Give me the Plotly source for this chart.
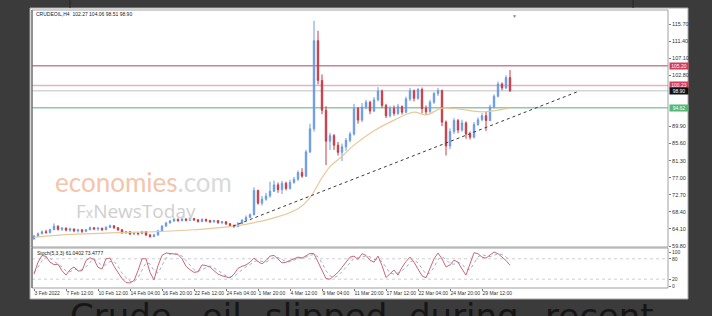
import plotly.graph_objects as go

# ---------------- data ----------------
first_open = 61.6
close = [62.3, 62.9, 63.4, 63.2, 63.9, 64.8, 64.0, 64.3, 63.8, 64.1,
         63.6, 63.9, 63.5, 63.9, 64.4, 64.1, 64.3, 63.9, 64.5, 64.9,
         64.4, 63.9, 63.1, 63.4, 62.8, 63.0, 62.9, 63.4, 62.6, 62.2,
         62.6, 63.6, 64.8, 65.6, 66.1, 66.5, 66.2, 66.6, 66.3, 66.7,
         66.4, 66.0, 66.5, 66.2, 65.9, 66.2, 65.7, 65.9, 65.4, 65.0,
         64.7, 65.5, 66.3, 67.0, 67.7, 73.8, 70.6, 71.6, 72.4, 73.6,
         75.2, 74.0, 75.6, 74.3, 75.8, 76.6, 78.3, 77.4, 83.5, 89.3,
         111.5, 101.5, 94.0, 86.2, 87.6, 85.2, 83.4, 84.8, 86.4, 88.0,
         94.4, 91.5, 94.8, 96.0, 93.8, 96.6, 98.8, 95.2, 92.6, 94.4,
         93.2, 94.9, 93.5, 96.8, 98.9, 97.0, 99.2, 94.4, 93.6, 96.0,
         98.2, 98.9, 91.0, 85.0, 88.6, 91.4, 89.0, 90.8, 88.0, 87.2,
         90.4, 91.6, 92.6, 91.4, 94.8, 97.5, 100.6, 99.6, 102.2, 98.9]
high = [62.6, 63.2, 63.7, 63.9, 64.2, 65.5, 65.0, 64.6, 64.5, 64.4,
        64.2, 64.1, 64.0, 64.1, 64.7, 64.6, 64.5, 64.4, 64.8, 65.2,
        65.0, 64.6, 64.1, 63.6, 63.5, 63.2, 63.2, 63.6, 63.5, 62.8,
        62.9, 63.9, 65.1, 65.9, 66.4, 66.9, 66.8, 67.0, 66.8, 67.0,
        66.9, 66.6, 66.8, 66.7, 66.4, 66.4, 66.3, 66.1, 66.0, 65.6,
        65.2, 65.8, 66.6, 67.5, 68.0, 74.6, 74.0, 72.4, 73.2, 76.0,
        76.3, 75.8, 76.2, 76.0, 76.5, 77.2, 78.8, 79.4, 84.0, 90.6,
        116.5, 114.0, 103.0, 95.0, 88.3, 88.0, 86.0, 85.6, 87.0, 88.6,
        95.6, 94.8, 95.8, 96.6, 96.4, 97.3, 99.8, 99.2, 95.6, 95.0,
        95.2, 95.6, 95.2, 97.4, 99.6, 99.2, 99.6, 99.7, 95.2, 96.6,
        98.6, 99.6, 99.2, 91.4, 89.4, 92.0, 91.8, 91.6, 91.2, 88.6,
        91.0, 92.2, 93.2, 93.6, 95.4, 98.0, 101.2, 101.0, 102.8, 104.1]
low = [61.4, 62.2, 62.8, 62.9, 63.0, 63.8, 63.7, 63.6, 63.5, 63.4,
       63.3, 63.2, 63.1, 63.3, 63.8, 63.8, 63.7, 63.6, 63.8, 64.3,
       64.1, 63.6, 62.9, 62.9, 62.6, 62.6, 62.5, 62.8, 62.3, 61.9,
       62.0, 62.4, 63.5, 64.7, 65.5, 65.9, 65.9, 66.0, 66.0, 66.1,
       66.1, 65.7, 65.8, 65.8, 65.6, 65.7, 65.4, 65.3, 65.1, 64.6,
       64.4, 64.6, 65.4, 66.2, 66.9, 67.5, 70.2, 70.0, 71.2, 72.0,
       73.4, 73.2, 72.9, 73.8, 74.0, 75.5, 76.2, 77.0, 77.2, 83.2,
       88.6, 100.5, 93.0, 80.2, 84.0, 84.0, 82.6, 81.2, 83.8, 85.9,
       87.6, 90.6, 91.0, 94.2, 93.0, 93.5, 96.2, 94.6, 92.0, 92.2,
       92.6, 92.8, 92.9, 93.2, 96.3, 96.2, 96.6, 93.2, 92.8, 93.4,
       95.6, 97.6, 90.0, 82.6, 84.2, 88.0, 88.2, 88.6, 86.8, 86.6,
       86.9, 90.0, 91.2, 88.8, 91.2, 94.5, 97.2, 99.0, 99.3, 98.6]
opens = [first_open] + close[:-1]
bar_idx = list(range(len(close)))

stoch_k = [35, 70, 90, 87, 70, 63, 64, 45, 32, 48,
           56, 44, 45, 75, 83, 78, 55, 50, 80, 82,
           58, 40, 22, 10, 9, 16, 45, 80, 80, 40,
           18, 60, 90, 97, 95, 95, 93, 80, 58, 48,
           40, 42, 62, 60, 56, 45, 35, 30, 26, 24,
           35, 52, 58, 62, 70, 82, 72, 65, 75, 88,
           90, 78, 68, 70, 75, 82, 85, 82, 88, 96,
           95, 70, 45, 22, 20, 30, 40, 55, 70, 85,
           88, 78, 95, 90, 76, 70, 88, 60, 25, 35,
           47, 32, 55, 72, 85, 70, 50, 30, 24, 55,
           80, 97, 80, 56, 62, 76, 70, 50, 32, 65,
           98, 95, 85, 82, 90, 100, 95, 85, 75, 61]
stoch_d = [40, 55, 75, 86, 82, 72, 65, 56, 44, 42,
           48, 50, 47, 56, 70, 80, 70, 60, 62, 72,
           72, 58, 38, 24, 14, 12, 25, 48, 68, 65,
           45, 38, 58, 82, 94, 95, 94, 88, 75, 60,
           48, 43, 48, 55, 59, 53, 45, 37, 30, 27,
           28, 38, 48, 57, 63, 72, 75, 72, 70, 77,
           85, 84, 77, 72, 71, 76, 81, 83, 85, 90,
           93, 86, 68, 45, 30, 25, 30, 42, 55, 70,
           81, 83, 86, 88, 86, 78, 78, 72, 55, 38,
           35, 38, 45, 54, 70, 76, 68, 50, 35, 38,
           55, 78, 86, 78, 66, 64, 70, 65, 50, 48,
           66, 86, 92, 88, 86, 90, 95, 92, 86, 73.5]

ma_idx = [0, 7, 22, 30, 40, 50, 60, 66, 69, 72, 74, 77, 80, 85, 90, 95, 98, 102, 106, 112, 119]
ma_val = [62.0, 62.6, 63.2, 63.4, 63.9, 64.8, 66.9, 69.2, 72.0, 77.0, 79.8, 82.4, 85.2, 88.8,
          91.5, 93.5, 92.8, 94.5, 94.3, 93.6, 94.6]

trend_idx = [49.75, 136]
trend_val = [64.8, 98.7]

levels = [105.20, 100.23, 98.90, 94.62]
level_colors = ["#c98393", "#e6b3c0", "#d6d6d6", "#8fc9a8"]
level_box_colors = ["#d23c5c", "#d23c5c", "#111111", "#55b877"]
level_texts = ["105.20", "100.23", "98.90", "94.62"]

price_ticks = [59.80, 64.10, 68.40, 72.70, 77.00, 81.30, 85.60, 89.90,
               102.80, 107.10, 111.40, 115.70]
price_tick_text = ["59.80", "64.10", "68.40", "72.70", "77.00", "81.30", "85.60", "89.90",
                   "102.80", "107.10", "111.40", "115.70"]

time_ticks = [0, 8, 16, 24, 32, 40, 48, 56, 64, 72, 80, 88, 96, 104, 112]
time_tick_text = ["3 Feb 2022", "7 Feb 12:00", "10 Feb 12:00", "14 Feb 04:00", "16 Feb 20:00",
                  "22 Feb 12:00", "24 Feb 04:00", "1 Mar 20:00", "4 Mar 12:00", "9 Mar 04:00",
                  "11 Mar 20:00", "17 Mar 12:00", "22 Mar 04:00", "24 Mar 20:00", "29 Mar 12:00"]

stoch_ticks = [0, 20, 80, 100]
stoch_tick_text = ["0", "20", "80", "100"]

headline_words = ["Crude", "oil", "slipped", "during", "recent"]

# ---------------- figure ----------------
W, H = 712, 316
ML, MR, MT, MB = 32, 44, 10, 28
PW, PH = W - ML - MR, H - MT - MB


def px_x(p):
    return (p - ML) / PW


def px_y(p):
    return (H - MB - p) / PH


fig = go.Figure()

fig.add_trace(go.Candlestick(
    x=bar_idx, open=opens, high=high, low=low, close=close,
    xaxis="x2", yaxis="y",
    increasing=dict(line=dict(color="#6a9ae6", width=1), fillcolor="#6a9ae6"),
    decreasing=dict(line=dict(color="#c83a46", width=1), fillcolor="#c83a46"),
    whiskerwidth=0, showlegend=False, hoverinfo="skip"))

fig.add_trace(go.Scatter(x=ma_idx, y=ma_val, mode="lines", xaxis="x2", yaxis="y",
                         line=dict(color="#eac79a", width=1.2, shape="spline"),
                         showlegend=False, hoverinfo="skip"))

fig.add_trace(go.Scatter(x=trend_idx, y=trend_val, mode="lines", xaxis="x2", yaxis="y",
                         line=dict(color="#3a3a3a", width=1, dash="dot"),
                         showlegend=False, hoverinfo="skip"))

fig.add_trace(go.Scatter(x=bar_idx, y=stoch_d, mode="lines", xaxis="x", yaxis="y2",
                         line=dict(color="#a0aed0", width=1, dash="dot"),
                         showlegend=False, hoverinfo="skip"))
fig.add_trace(go.Scatter(x=bar_idx, y=stoch_k, mode="lines", xaxis="x", yaxis="y2",
                         line=dict(color="#c86a76", width=1),
                         showlegend=False, hoverinfo="skip"))

main_bottom = 247
stoch_top = 248
shapes = [
    dict(type="rect", xref="paper", yref="paper", x0=px_x(30), x1=px_x(688),
         y0=px_y(299), y1=px_y(8), fillcolor="white", line=dict(color="#a8a8a8", width=1),
         layer="below"),
    dict(type="line", xref="paper", yref="paper", x0=px_x(70), x1=px_x(70),
         y0=px_y(0), y1=px_y(8), line=dict(color="#262626", width=1)),
    dict(type="line", xref="paper", yref="paper", x0=px_x(633), x1=px_x(633),
         y0=px_y(0), y1=px_y(8), line=dict(color="#262626", width=1)),
    dict(type="rect", xref="x2 domain", yref="y domain", x0=0, x1=1, y0=0, y1=1,
         line=dict(color="#a0a0a0", width=1), layer="above"),
    dict(type="rect", xref="x domain", yref="y2 domain", x0=0, x1=1, y0=0, y1=1,
         line=dict(color="#a0a0a0", width=1), layer="above"),
    dict(type="line", xref="x2 domain", yref="paper", x0=0, x1=0, y0=px_y(288), y1=px_y(10),
         line=dict(color="#555555", width=1)),
]
for lv, col in zip(levels, level_colors):
    shapes.append(dict(type="line", xref="x2 domain", yref="y", x0=0, x1=1, y0=lv, y1=lv,
                       line=dict(color=col, width=1.6), layer="below"))
for sv in [20, 80]:
    shapes.append(dict(type="line", xref="x domain", yref="y2", x0=0, x1=1, y0=sv, y1=sv,
                       line=dict(color="#cfcfcf", width=1, dash="dot"), layer="below"))

annotations = []
for lv, bc, tx in zip(levels, level_box_colors, level_texts):
    annotations.append(dict(xref="paper", yref="y", x=px_x(669), y=lv, xanchor="left",
                            yanchor="middle", text=tx, showarrow=False, bgcolor=bc,
                            font=dict(size=5, color="white", family="Liberation Sans"),
                            width=18, height=6, borderpad=0))

annotations.append(dict(xref="paper", yref="paper", x=px_x(34), y=px_y(14), xanchor="left",
                        yanchor="middle", showarrow=False,
                        text="CRUDEOIL,H4  102.27 104.06 98.51 98.90",
                        font=dict(size=5, color="#222222", family="Liberation Sans")))
annotations.append(dict(xref="paper", yref="paper", x=px_x(35), y=px_y(253), xanchor="left",
                        yanchor="middle", showarrow=False,
                        text="Stoch(5,3,3) 61.0402 73.4777",
                        font=dict(size=5, color="#222222", family="Liberation Sans")))
annotations.append(dict(xref="x2", yref="paper", x=120, y=px_y(11), showarrow=False,
                        text="\u25BC", font=dict(size=5, color="#888888")))

# watermark
annotations.append(dict(xref="paper", yref="paper", x=px_x(53), y=px_y(182), xanchor="left",
                        yanchor="middle", showarrow=False, height=22,
                        text="<span style='color:#f4c4ab'>economies</span><span style='color:#dadada'>.com</span>",
                        font=dict(size=26, family="Lato")))
annotations.append(dict(xref="paper", yref="paper", x=px_x(74), y=px_y(211), xanchor="left",
                        yanchor="middle", showarrow=False, height=18,
                        text="F<span style='font-size:14px'>x</span>NewsToday",
                        font=dict(size=19, family="Open Sans", color="#cfcfcf")))

# headline below the chart
word_x = [68, 200, 263, 407, 543]
for w, xp in zip(headline_words, word_x):
    annotations.append(dict(xref="paper", yref="paper", x=px_x(xp), y=px_y(293.5),
                            xanchor="left", yanchor="top", showarrow=False, text=w,
                            font=dict(size=34, family="DejaVu Sans", color="#161616")))

py_per_price = 17.08 / 4.30
main_top_price = 115.70 + (24 - 10) / py_per_price
main_bot_price = 115.70 - (main_bottom - 24) / py_per_price
st_scale = 34 / 100
st_top = 100 + (252 - stoch_top) / st_scale
st_bot = -(288 - 286) / st_scale

fig.update_layout(
    width=W, height=H, margin=dict(l=ML, r=MR, t=MT, b=MB),
    paper_bgcolor="#3b3b3b", plot_bgcolor="rgba(0,0,0,0)",
    hovermode=False, showlegend=False, dragmode=False,
    boxgap=0.5,
    shapes=shapes, annotations=annotations,
    xaxis=dict(domain=[0, 1], anchor="y2", range=[-0.5, 158.5],
               tickvals=time_ticks, ticktext=time_tick_text, tickangle=0,
               ticklabelposition="outside right", ticks="outside", ticklen=2,
               tickcolor="#777777", tickfont=dict(size=5, color="#333333", family="Liberation Sans"),
               showgrid=False, zeroline=False, showline=False, rangeslider=dict(visible=False)),
    xaxis2=dict(domain=[0, 1], anchor="y", matches="x", showticklabels=False,
                showgrid=False, zeroline=False, showline=False, rangeslider=dict(visible=False)),
    yaxis=dict(domain=[px_y(main_bottom), 1], anchor="x2", side="right",
               range=[main_bot_price, main_top_price],
               tickvals=price_ticks, ticktext=price_tick_text, ticks="outside", ticklen=2,
               tickcolor="#777777", tickfont=dict(size=5.5, color="#333333", family="Liberation Sans"),
               showgrid=False, zeroline=False, showline=False),
    yaxis2=dict(domain=[0, px_y(stoch_top)], anchor="x", side="right",
                range=[st_bot, st_top],
                tickvals=stoch_ticks, ticktext=stoch_tick_text, ticks="outside", ticklen=2,
                tickcolor="#777777", tickfont=dict(size=5, color="#333333", family="Liberation Sans"),
                showgrid=False, zeroline=False, showline=False),
)

fig.write_html("out.html")
